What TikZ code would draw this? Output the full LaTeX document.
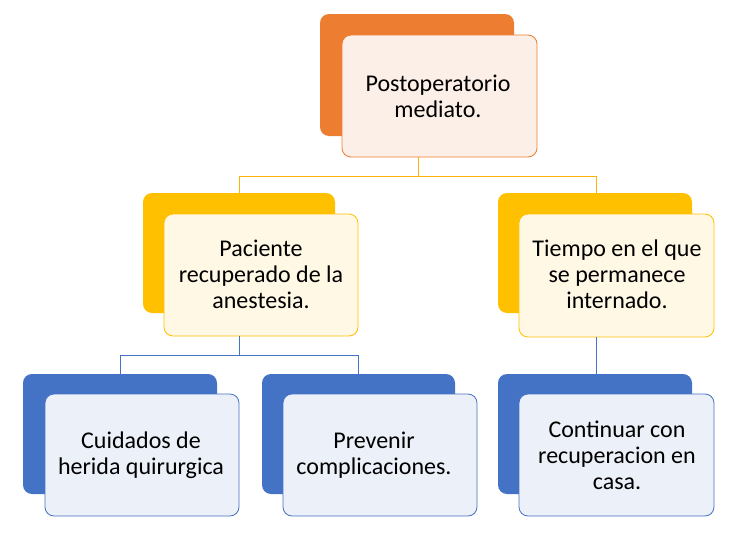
\documentclass[tikz,border=0pt]{standalone}
\usepackage{fontspec}
\setmainfont{Carlito}
\begin{document}
\begin{tikzpicture}[x=1pt,y=-1pt,
  back/.style={rounded corners=9pt},
  front/.style={rounded corners=9pt, line width=0.8pt},
  txt/.style={align=center, font=\fontsize{24}{26}\selectfont},
  con/.style={line width=0.6pt}]
\useasboundingbox (0,0) rectangle (748,538);
\definecolor{org}{HTML}{ED7D31}\definecolor{orgl}{HTML}{FCEFE8}
\definecolor{gld}{HTML}{FFC000}\definecolor{gldl}{HTML}{FFF8E5}
\definecolor{blu}{HTML}{4472C4}\definecolor{blul}{HTML}{ECF0F8}
% connectors
\coordinate (c1) at (418,176); \coordinate (c2) at (239,176); \coordinate (c3) at (596,176);
\coordinate (d1) at (239,355); \coordinate (d2) at (120,355); \coordinate (d3) at (358,355);
\fill[org,back] (320,14) rectangle (514,136);
\draw[org,front,fill=orgl] (342,35) rectangle (537,157);
\node[txt] (a) at (438,96) {Postoperatorio\\mediato.};
\fill[gld,back] (143,193) rectangle (335,313);
\draw[gld,front,fill=gldl] (164,214) rectangle (358,336);
\node[txt] (b) at (261,274) {Paciente\\recuperado de la\\anestesia.};
\fill[gld,back] (498,193) rectangle (692,313);
\draw[gld,front,fill=gldl] (519,214) rectangle (714,337);
\node[txt] (c) at (617,274) {Tiempo en el que\\se permanece\\internado.};
\fill[blu,back] (23,374) rectangle (217,494);
\draw[blu,front,fill=blul] (45,394) rectangle (239,516);
\node[txt] (d) at (141,455) {Cuidados de\\herida quirurgica};
\fill[blu,back] (262,374) rectangle (455,494);
\draw[blu,front,fill=blul] (283,394) rectangle (477,516);
\node[txt] (e) at (374,455) {Prevenir\\complicaciones.};
\fill[blu,back] (498,374) rectangle (692,494);
\draw[blu,front,fill=blul] (519,394) rectangle (714,516);
\node[txt] (f) at (617,455) {Continuar con\\recuperacion en\\casa.};
\draw[con,gld!80!org] (418,157) -- (c1) (c2) -- (c3) (c2) -- (239,193) (c3) -- (596,193);
\draw[con,blu] (239,336) -- (d1) (d2) -- (d3) (d2) -- (120,374) (d3) -- (358,374);
\draw[con,blu] (596,337) -- (596,374);
\end{tikzpicture}
\end{document}
